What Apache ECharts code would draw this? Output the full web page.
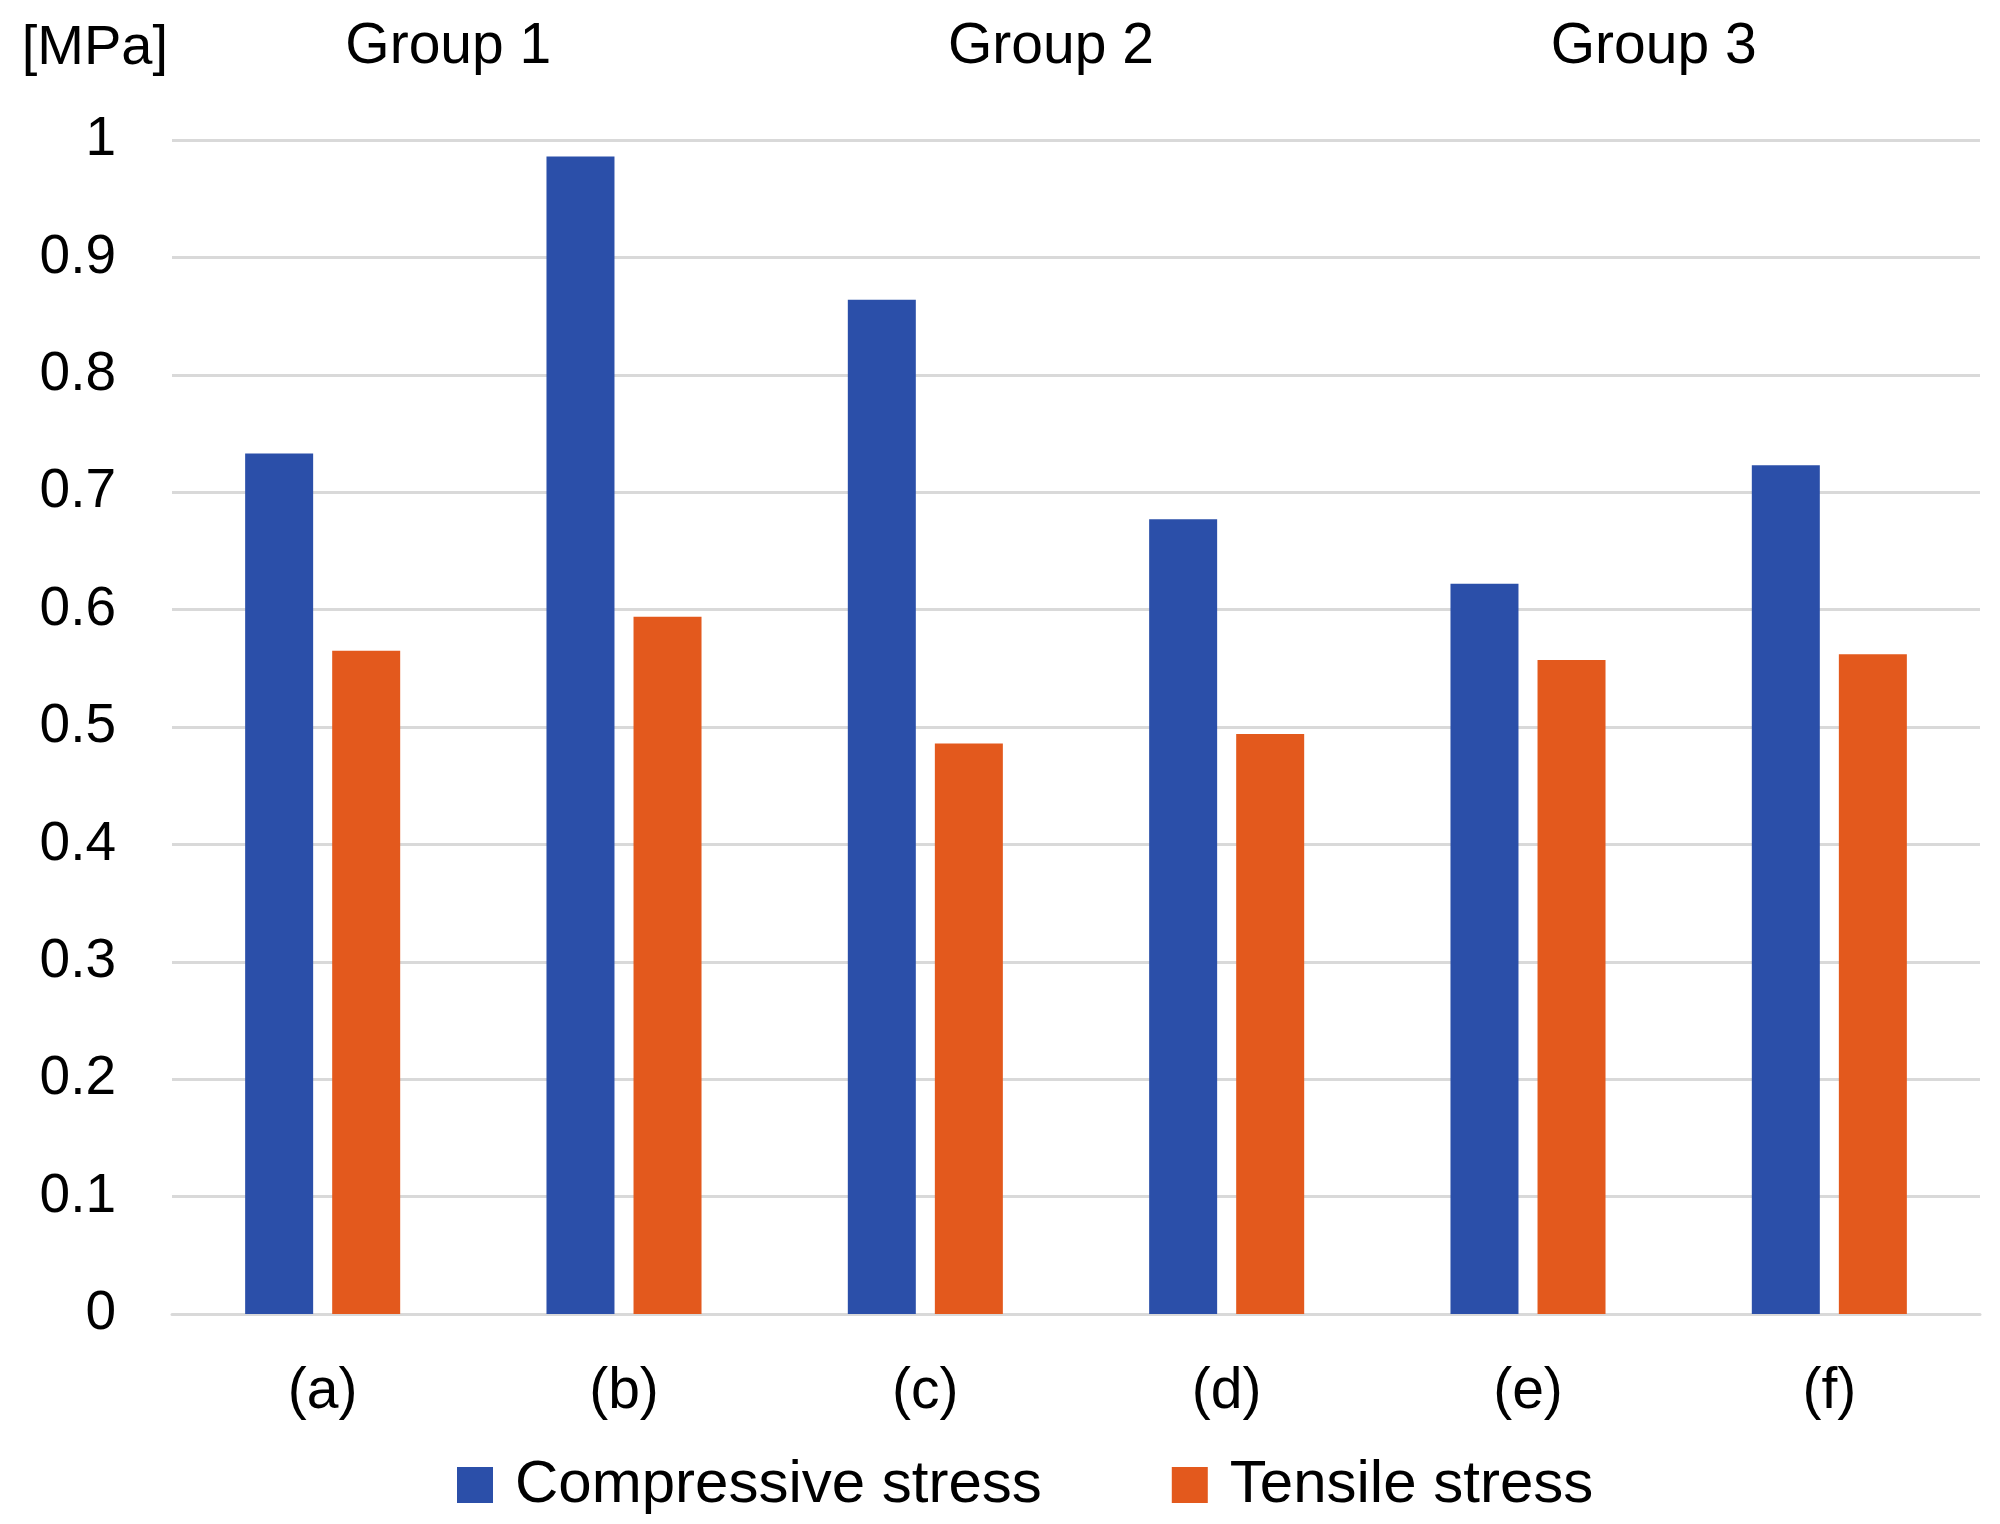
<!DOCTYPE html>
<html>
<head>
<meta charset="utf-8">
<script src="https://cdn.jsdelivr.net/npm/echarts@6/dist/echarts.min.js"></script>
<style>
html,body{margin:0;padding:0;background:#fff;}
#chart{width:2000px;height:1524px;}
</style>
</head>
<body>
<div id="chart"></div>
<script>
const categories = ['(a)', '(b)', '(c)', '(d)', '(e)', '(f)'];
const groups = ['Group 1', 'Group 2', 'Group 3'];
const compressive = [0.733, 0.986, 0.864, 0.677, 0.622, 0.723];
const tensile = [0.565, 0.594, 0.486, 0.494, 0.557, 0.562];
const seriesNames = ['Compressive stress', 'Tensile stress'];
const unitLabel = '[MPa]';

const FONT = "'Liberation Sans', Arial, sans-serif";
const chart = echarts.init(document.getElementById('chart'));
chart.setOption({
  backgroundColor: '#ffffff',
  animation: false,
  textStyle: { fontFamily: FONT, color: '#000' },
  grid: { left: 172, right: 20, top: 140, bottom: 210, containLabel: false },
  legend: {
    data: seriesNames,
    left: 452,
    top: 1450,
    itemWidth: 36,
    itemHeight: 36,
    itemGap: 130,
    icon: 'rect',
    textStyle: { fontFamily: FONT, fontSize: 60, color: '#000', padding: [0, 0, 0, 17] }
  },
  xAxis: [
    {
      type: 'category',
      data: categories,
      position: 'bottom',
      axisLine: { show: true, lineStyle: { color: '#d9d9d9', width: 3 } },
      axisTick: { show: false },
      axisLabel: { fontFamily: FONT, fontSize: 57, color: '#000', margin: 50 }
    },
    {
      type: 'category',
      data: groups,
      position: 'top',
      axisLine: { show: false },
      axisTick: { show: false },
      axisLabel: { fontFamily: FONT, fontSize: 57, color: '#000', margin: 64, padding: [0, 50, 0, 0] }
    }
  ],
  yAxis: {
    type: 'value',
    min: 0,
    max: 1,
    interval: 0.1,
    name: unitLabel,
    nameLocation: 'end',
    nameGap: 91,
    nameTextStyle: { fontFamily: FONT, fontSize: 56, color: '#000', align: 'right', verticalAlign: 'middle', padding: [0, 4, 0, 0] },
    axisLine: { show: false },
    axisTick: { show: false },
    axisLabel: { fontFamily: FONT, fontSize: 55, color: '#000', margin: 56, formatter: v => String(Math.round(v * 10) / 10) },
    splitLine: { show: true, lineStyle: { color: '#d9d9d9', width: 3 } }
  },
  series: [
    {
      name: seriesNames[0],
      type: 'bar',
      data: compressive,
      barWidth: 68,
      barGap: '28%',
      itemStyle: { color: '#2b4fa9' }
    },
    {
      name: seriesNames[1],
      type: 'bar',
      data: tensile,
      barWidth: 68,
      barGap: '28%',
      itemStyle: { color: '#e3591d' }
    }
  ]
});
</script>
</body>
</html>
